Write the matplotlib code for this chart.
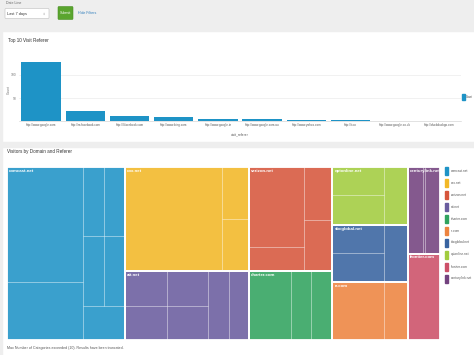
"""Splunk-style dashboard: top referers bar chart + domain/referer treemap."""
import matplotlib
matplotlib.use("Agg")
import matplotlib.pyplot as plt
from matplotlib.patches import Rectangle, FancyBboxPatch

plt.rcParams["font.family"] = ["Liberation Sans", "DejaVu Sans"]

W, H = 474, 355

# --- data -------------------------------------------------------------
bar_labels = ["http://www.google.com", "http://m.facebook.com", "http://l.facebook.com",
              "http://www.bing.com", "http://www.google.ie", "http://www.google.com.au",
              "http://www.yahoo.com", "http://t.co", "http://www.google.co.uk",
              "http://duckduckgo.com"]
bar_values = [128, 22, 11, 9, 5, 4, 2, 2, 1, 1]

domains = ["comcast.net", "cox.net", "verizon.net", "att.net", "charter.com",
           "rr.com", "sbcglobal.net", "optonline.net", "frontier.com", "centurylink.net"]
palette = ["#1e93c6", "#f2b827", "#d6563c", "#6a5c9e", "#31a35f",
           "#ed8440", "#3863a0", "#a2cc3e", "#cc5068", "#73427f"]

# visitors per referer inside each domain
leaf_values = [
    [862, 435, 145, 138, 147, 140, 139],
    [999, 140, 138],
    [435, 132, 146, 143],
    [143, 143, 139, 139, 143, 136],
    [286, 136, 143],
    [291, 137],
    [143, 148, 137],
    [143, 148, 137],
    [275],
    [128, 16, 131],
]
# how the referers of each domain are packed: (strip kind, number of leaves)
leaf_strips = [
    [("col", 2), ("row", 2), ("row", 2), ("row", 1)],
    [("col", 1), ("col", 2)],
    [("col", 2), ("col", 2)],
    [("col", 2), ("col", 2), ("col", 1), ("col", 1)],
    [("col", 1), ("col", 1), ("col", 1)],
    [("col", 1), ("col", 1)],
    [("col", 2), ("col", 1)],
    [("col", 2), ("col", 1)],
    [("col", 1)],
    [("col", 1), ("col", 1), ("col", 1)],
]
top_columns = [[0], [1, 3], [2, 4], [7, 6, 5], [9, 8]]


def strip_layout(values, strips, x0, y0, x1, y1):
    rects, i, remaining = [], 0, float(sum(values))
    for kind, n in strips:
        vals = values[i:i + n]
        s = float(sum(vals))
        if kind == "col":
            w = (x1 - x0) * s / remaining
            cy = y0
            for v in vals:
                h = (y1 - y0) * v / s
                rects.append((x0, cy, w, h))
                cy += h
            x0 += w
        else:
            h = (y1 - y0) * s / remaining
            cx = x0
            for v in vals:
                w = (x1 - x0) * v / s
                rects.append((cx, y0, w, h))
                cx += w
            y0 += h
        remaining -= s
        i += n
    return rects


def fx(px):
    return px / W


def fy(py):
    return 1 - py / H


fig = plt.figure(figsize=(W / 100, H / 100), dpi=100)
fig.patch.set_facecolor("white")

# --- page chrome ------------------------------------------------------
bg = fig.add_axes([0, 0, 1, 1])
bg.set_xlim(0, W)
bg.set_ylim(H, 0)
bg.axis("off")
bg.add_patch(Rectangle((0, 0), W, 31, color="#eeeeee", zorder=0))
bg.add_patch(Rectangle((0, 142), W, 5, color="#eeeeee", zorder=0))
bg.add_patch(Rectangle((0, 31), 2, 111, color="#eeeeee", zorder=0))
bg.add_patch(Rectangle((0, 147), 2, 208, color="#eeeeee", zorder=0))
bg.text(6, 3.5, "Date Line", fontsize=2.6, color="#666666", va="center")
bg.add_patch(FancyBboxPatch((5, 8.5), 44, 10, boxstyle="round,pad=0,rounding_size=1",
                            fc="white", ec="#bdbdbd", lw=0.4))
bg.text(7.5, 13.5, "Last 7 days", fontsize=2.8, color="#333333", va="center")
bg.text(44, 13.5, "\u2195", fontsize=3, color="#555555", va="center", ha="center")
bg.add_patch(FancyBboxPatch((58, 6.5), 15, 13, boxstyle="round,pad=0,rounding_size=1",
                            fc="#5aa52e", ec="#4a8f26", lw=0.4))
bg.text(65.5, 13, "Submit", fontsize=2.6, color="white", va="center", ha="center")
bg.text(78, 13, "Hide Filters", fontsize=2.6, color="#2b7bbb", va="center")

bg.text(8, 40.5, "Top 10 Visit Referer", fontsize=3.3, color="#333333", va="center")
bg.text(7, 152, "Visitors by Domain and Referer", fontsize=3.3, color="#333333", va="center")
bg.text(7, 347.5, "Max Number of Categories exceeded (10). Results have been truncated.",
        fontsize=2.6, color="#555555", va="center")

# --- bar chart --------------------------------------------------------
ax = fig.add_axes([fx(19), fy(121), fx(461) - fx(19), fy(56.6) - fy(121)])
ax.bar(range(len(bar_values)), bar_values, width=0.89, color="#1e93c6", zorder=2,
       label="Count")
ax.set_xlim(-0.5, len(bar_values) - 0.5)
ax.set_ylim(0, 140)
ax.set_yticks([50, 100])
ax.yaxis.grid(True, color="#e6e6e6", lw=0.4)
ax.set_xticks(range(len(bar_values)))
ax.set_xticklabels(bar_labels, fontsize=2.2, color="#555555")
ax.tick_params(axis="y", labelsize=2.4, colors="#777777", length=0, pad=2)
ax.tick_params(axis="x", length=0, pad=1.5)
for s in ax.spines.values():
    s.set_visible(False)
ax.spines["bottom"].set_visible(True)
ax.spines["bottom"].set_color("#cccccc")
ax.spines["bottom"].set_linewidth(0.4)
bg.text(9, 89, "Count", fontsize=2.4, color="#777777", rotation=90,
        ha="center", va="center")
ax.set_xlabel("visit_referer", fontsize=2.4, color="#555555", labelpad=4)
bg.add_patch(Rectangle((462, 94), 3, 6, color="#1e93c6"))
bg.text(466, 97, "Count", fontsize=1.9, color="#555555", va="center")

# --- treemap ----------------------------------------------------------
tx0, ty0, tx1, ty1 = 7, 167, 440, 340
tm = fig.add_axes([fx(tx0), fy(ty1), fx(tx1) - fx(tx0), fy(ty0) - fy(ty1)])
tw, th = tx1 - tx0, ty1 - ty0
tm.set_xlim(0, tw)
tm.set_ylim(th, 0)
tm.axis("off")

order = [d for col in top_columns for d in col]
totals = [sum(leaf_values[d]) for d in order]
group_rects = strip_layout(totals, [("col", len(c)) for c in top_columns], 0, 0, tw, th)

for d, (gx, gy, gw, gh) in zip(order, group_rects):
    leaves = strip_layout(leaf_values[d], leaf_strips[d], gx, gy, gx + gw, gy + gh)
    for (lx, ly, lw_, lh) in leaves:
        tm.add_patch(Rectangle((lx, ly), lw_, lh, fc=palette[d], alpha=0.88,
                               ec="none", zorder=1))
        tm.add_patch(Rectangle((lx, ly), lw_, lh, fc="none",
                               ec=(1, 1, 1, 0.35), lw=0.5, zorder=2))
    frame = Rectangle((gx, gy), gw, gh, fc="none", ec="white", lw=1.3, zorder=3)
    tm.add_patch(frame)
    label = tm.text(gx + 2, gy + 4, domains[d], fontsize=3.2, fontweight="bold",
                    color="white", va="center", zorder=4)
    label.set_clip_path(frame)

for i, (name, c) in enumerate(zip(domains, palette)):
    yc = 170.5 + 12 * i
    bg.add_patch(Rectangle((445, yc - 4), 3, 8, color=c))
    bg.text(450.5, yc, name, fontsize=2.3, color="#555555", va="center")

fig.savefig("out.png", dpi=100, facecolor="white")
